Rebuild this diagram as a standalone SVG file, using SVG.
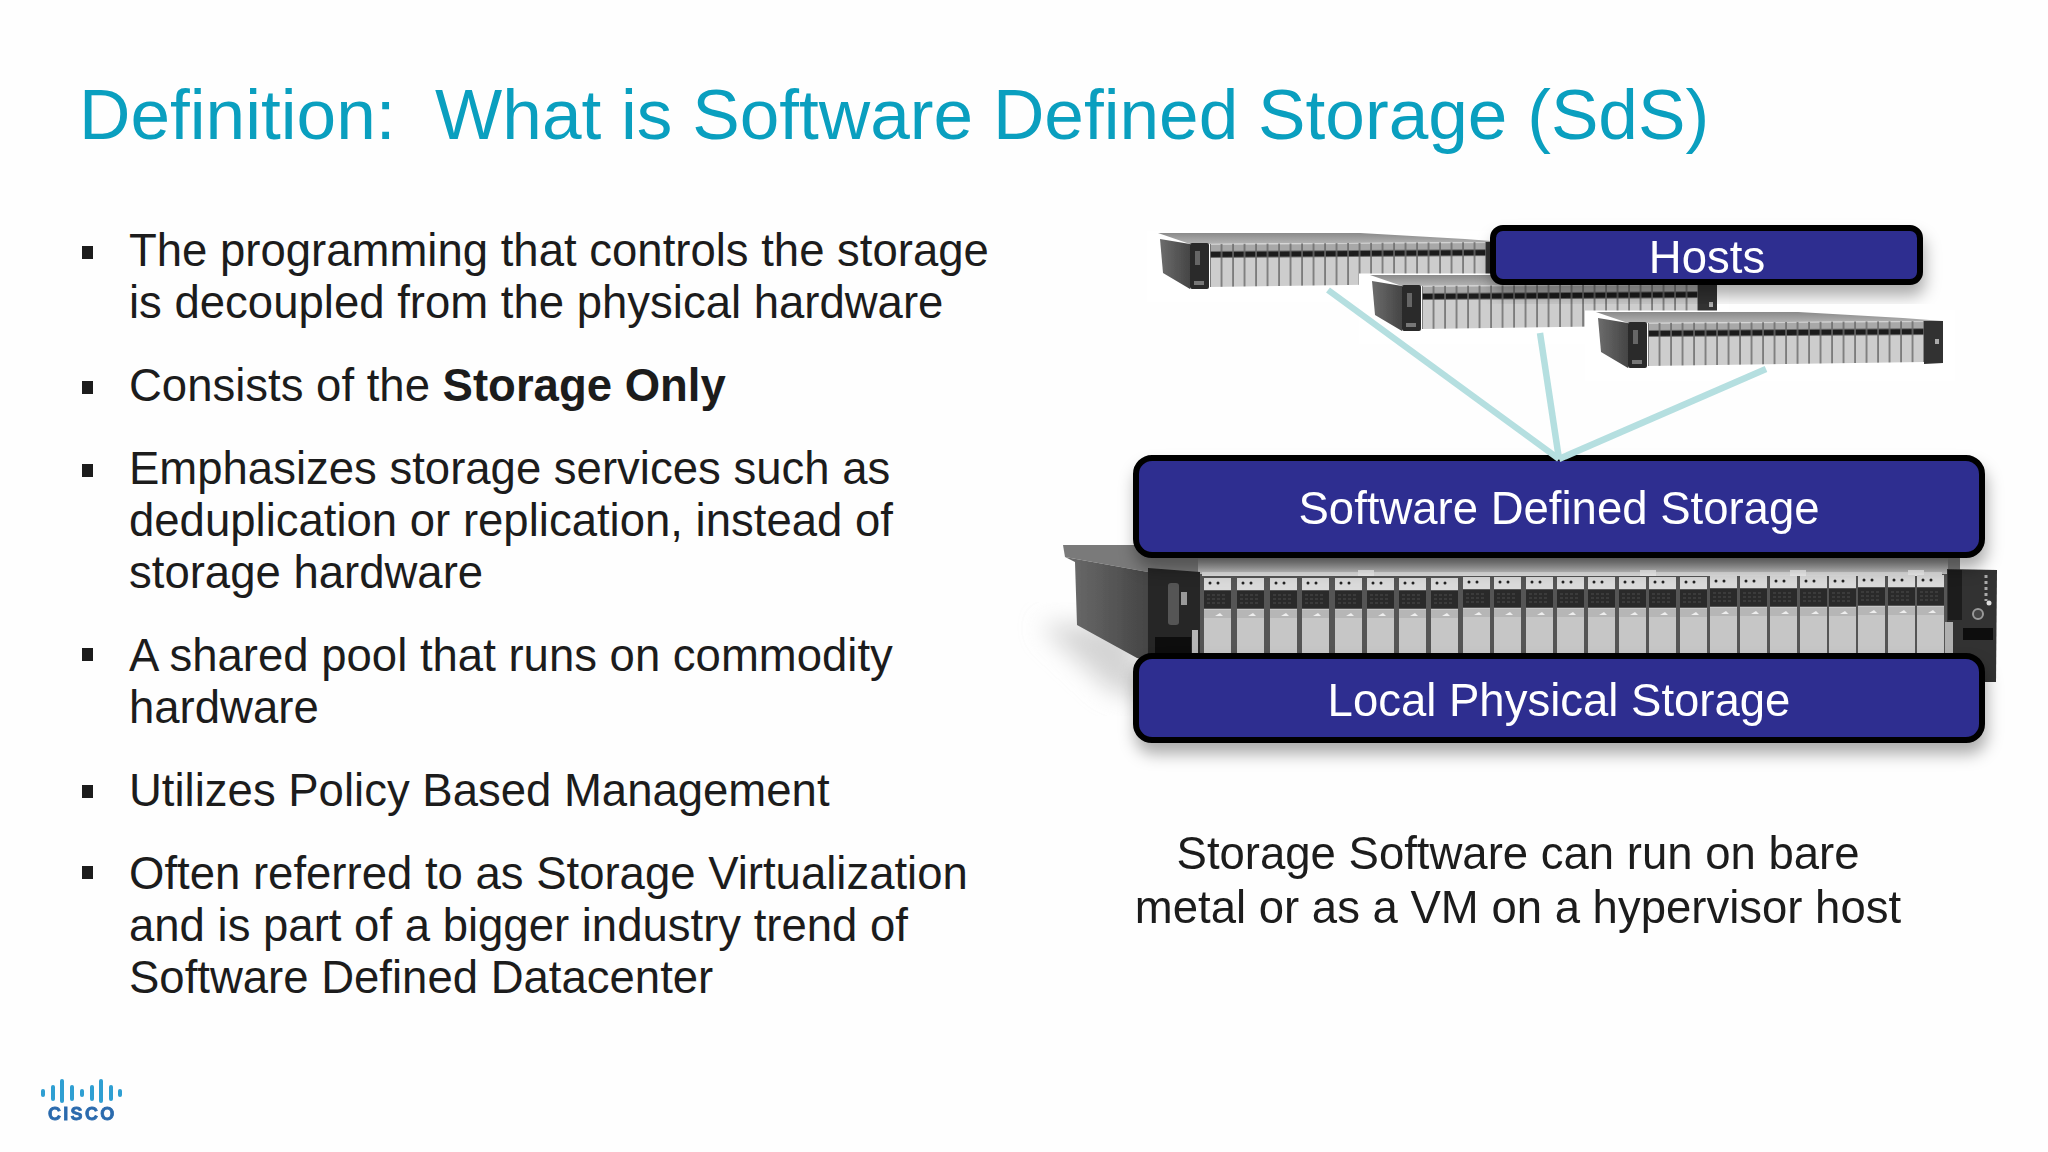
<svg xmlns="http://www.w3.org/2000/svg" xmlns:xlink="http://www.w3.org/1999/xlink" width="2048" height="1152" viewBox="0 0 2048 1152">
<style>
text{font-family:"Liberation Sans",Arial,sans-serif}
.title{font-size:71.2px;fill:#0a9fbf}
.body{font-size:45.5px;fill:#1c1c1c}
.side{font-size:45.5px;fill:#1c1c1c;text-anchor:middle}
.label{font-size:45.5px;fill:#fff;text-anchor:middle}
.box{fill:#2e2e90;stroke:#000;stroke-width:6;filter:url(#shadow)}
.link{stroke:#b5dfe0;stroke-width:6.500;fill:none}
.bullet{fill:#1c1c1c}
.bar{stroke-linecap:round;stroke-width:4;stroke:#2f9fd2}
</style>
<defs>
<filter id="shadow" x="-10%" y="-30%" width="120%" height="170%"><feDropShadow dx="2" dy="11" stdDeviation="8" flood-color="#000" flood-opacity=".32"/></filter>
<filter id="soft"><feGaussianBlur stdDeviation=".6"/></filter>
<filter id="ground" x="-30%" y="-30%" width="160%" height="160%"><feGaussianBlur stdDeviation="12"/></filter>
<linearGradient id="topG" x1="0" y1="0" x2="0" y2="1"><stop offset="0" stop-color="#8a8a8a"/><stop offset="1" stop-color="#b4b4b4"/></linearGradient>
<linearGradient id="sideG" x1="0" y1="0" x2="1" y2="0"><stop offset="0" stop-color="#6c6c6c"/><stop offset="1" stop-color="#454545"/></linearGradient>
<linearGradient id="bandG" x1="0" y1="0" x2="0" y2="1"><stop offset="0" stop-color="#7d7d7d"/><stop offset="1" stop-color="#d2d2d2"/></linearGradient>
<pattern id="smallBays" width="11.5" height="46" patternUnits="userSpaceOnUse" patternTransform="translate(20,2) skewY(-.4)">
<rect width="11.5" height="46" fill="#6a6a6a"/>
<rect x=".8" y="0" width="10" height="6" fill="#a8a8a8"/>
<rect x=".8" y="7" width="10" height="5" fill="#1f1f1f"/>
<rect x=".8" y="13" width="10" height="33" fill="#cdcdcd"/>
</pattern>
<g id="smallServer">
<rect x="-43" y="-11.500" width="370" height="70" fill="#fff"/>
<polygon points="-32,-10 170,-10 275,-4 315,-1 0,1" fill="url(#topG)"/>
<polygon points="-30,-4 0,1 0,46 -27,30" fill="url(#sideG)"/>
<polygon points="20,1 296,-1 296,40 20,44" fill="url(#smallBays)"/>
<rect x="0" y="0" width="19" height="46" rx="2" fill="#2b2b2b"/>
<polygon points="296,-1 315,-1 315,41 296,42" fill="#333"/>
<rect x="5" y="8" width="5" height="14" fill="#666"/>
<rect x="4" y="38" width="10" height="4" fill="#777"/>
<rect x="307" y="17" width="4" height="5" fill="#aaa"/>
</g>
<g id="bay">
<rect x="0" y="0" width="27" height="12" fill="#dadada"/>
<circle cx="6" cy="5" r="1.5" fill="#222"/><circle cx="14" cy="5" r="1.5" fill="#222"/>
<rect x="0" y="13" width="27" height="17" fill="#2a2a2a"/>
<path d="M3 17h20M3 21h20M3 25h20" stroke="#4a4a4a" stroke-width="1.2" stroke-dasharray="3 2"/>
<rect x="0" y="31" width="27" height="50" fill="#c6c6c6"/>
<rect x="0" y="32" width="27" height="8" fill="#b6b6b6"/>
<polygon points="11,38 16,35 19,38" fill="#eee"/>
</g>
</defs>
<rect width="2048" height="1152" fill="#fefefe"/>

<g id="title"><text class="title" x="79" y="139" xml:space="preserve">Definition:  What is Software Defined Storage (SdS)</text></g>

<g id="bullets">
<rect class="bullet" x="82" y="246" width="11" height="13"/>
<rect class="bullet" x="82" y="381" width="11" height="13"/>
<rect class="bullet" x="82" y="464" width="11" height="13"/>
<rect class="bullet" x="82" y="648" width="11" height="13"/>
<rect class="bullet" x="82" y="785" width="11" height="13"/>
<rect class="bullet" x="82" y="866" width="11" height="13"/>
<text class="body" x="129" y="266">The programming that controls the storage</text>
<text class="body" x="129" y="318">is decoupled from the physical hardware</text>
<text class="body" x="129" y="401">Consists of the <tspan font-weight="700">Storage Only</tspan></text>
<text class="body" x="129" y="484">Emphasizes storage services such as</text>
<text class="body" x="129" y="536">deduplication or replication, instead of</text>
<text class="body" x="129" y="588">storage hardware</text>
<text class="body" x="129" y="671">A shared pool that runs on commodity</text>
<text class="body" x="129" y="723">hardware</text>
<text class="body" x="129" y="806">Utilizes Policy Based Management</text>
<text class="body" x="129" y="889">Often referred to as Storage Virtualization</text>
<text class="body" x="129" y="941">and is part of a bigger industry trend of</text>
<text class="body" x="129" y="993">Software Defined Datacenter</text>
</g>

<g id="host-servers" filter="url(#soft)">
<use xlink:href="#smallServer" href="#smallServer" x="1190" y="243"/>
<use xlink:href="#smallServer" href="#smallServer" x="1402" y="285"/>
<use xlink:href="#smallServer" href="#smallServer" x="1628" y="322"/>
</g>

<g id="storage-server" filter="url(#soft)">
<polygon points="1040,625 1130,625 1150,700 1110,690" fill="#d4d4d4" filter="url(#ground)"/>
<polygon points="1063,545 1960,545 1960,580 1148,572 1065,557" fill="#7a7a7a"/>
<polygon points="1065,557 1148,572 1148,660 1137,658 1077,625 1075,562" fill="url(#sideG)"/>
<rect x="1198" y="558" width="750" height="18" fill="url(#bandG)"/>
<rect x="1198" y="574" width="750" height="84" fill="#555"/>
<rect x="1202" y="572" width="740" height="4" fill="#dedede"/>
<rect x="1358" y="570" width="16" height="6" fill="#eee"/>
<rect x="1640" y="570" width="16" height="6" fill="#eee"/>
<rect x="1790" y="570" width="16" height="6" fill="#eee"/>
<rect x="1908" y="570" width="16" height="6" fill="#eee"/>
<polygon points="1148,568 1200,572 1200,660 1148,660" fill="#262626"/>
<rect x="1168" y="583" width="11" height="42" rx="3" fill="#555"/>
<rect x="1181" y="592" width="6" height="13" fill="#999"/>
<rect x="1155" y="637" width="36" height="20" fill="#0d0d0d"/>
<rect x="1192" y="630" width="6" height="26" fill="#b5b5b5"/>
<use xlink:href="#bay" href="#bay" x="1204" y="578"/>
<use xlink:href="#bay" href="#bay" x="1237" y="578"/>
<use xlink:href="#bay" href="#bay" x="1270" y="578"/>
<use xlink:href="#bay" href="#bay" x="1302" y="578"/>
<use xlink:href="#bay" href="#bay" x="1335" y="578"/>
<use xlink:href="#bay" href="#bay" x="1367" y="578"/>
<use xlink:href="#bay" href="#bay" x="1399" y="578"/>
<use xlink:href="#bay" href="#bay" x="1431" y="578"/>
<use xlink:href="#bay" href="#bay" x="1463" y="577"/>
<use xlink:href="#bay" href="#bay" x="1494" y="577"/>
<use xlink:href="#bay" href="#bay" x="1526" y="577"/>
<use xlink:href="#bay" href="#bay" x="1557" y="577"/>
<use xlink:href="#bay" href="#bay" x="1588" y="577"/>
<use xlink:href="#bay" href="#bay" x="1619" y="577"/>
<use xlink:href="#bay" href="#bay" x="1649" y="577"/>
<use xlink:href="#bay" href="#bay" x="1680" y="577"/>
<use xlink:href="#bay" href="#bay" x="1710" y="576"/>
<use xlink:href="#bay" href="#bay" x="1740" y="576"/>
<use xlink:href="#bay" href="#bay" x="1770" y="576"/>
<use xlink:href="#bay" href="#bay" x="1800" y="576"/>
<use xlink:href="#bay" href="#bay" x="1829" y="576"/>
<use xlink:href="#bay" href="#bay" x="1858" y="575"/>
<use xlink:href="#bay" href="#bay" x="1888" y="575"/>
<use xlink:href="#bay" href="#bay" x="1917" y="575"/>
<polygon points="1947,569 1997,570 1996,682 1947,682" fill="#303030"/>
<rect x="1945" y="622" width="8" height="34" fill="#b0b0b0"/>
<rect x="1948" y="570" width="14" height="50" fill="#1a1a1a"/>
<path d="M1986 575v26" stroke="#aaa" stroke-width="3" stroke-dasharray="3 3"/>
<circle cx="1989" cy="603" r="2.500" fill="#ddd"/>
<circle cx="1978" cy="614" r="5" fill="#444" stroke="#999" stroke-width="2"/>
<rect x="1963" y="628" width="30" height="12" fill="#0e0e0e"/>
</g>

<g id="node-hosts">
<rect class="box" x="1493" y="228" width="427" height="54" rx="10"/>
<text class="label" x="1707" y="273">Hosts</text>
</g>
<g id="node-sds">
<rect class="box" x="1136" y="458" width="846" height="97" rx="16"/>
<text class="label" x="1559" y="524">Software Defined Storage</text>
</g>
<g id="node-lps">
<rect class="box" x="1136" y="656" width="846" height="84" rx="16"/>
<text class="label" x="1559" y="716">Local Physical Storage</text>
</g>

<g id="connectors">
<line class="link" x1="1328" y1="290" x2="1559" y2="459"/>
<line class="link" x1="1540" y1="333" x2="1559" y2="459"/>
<line class="link" x1="1766" y1="369" x2="1559" y2="459"/>
</g>

<g id="caption">
<text class="side" x="1518" y="869">Storage Software can run on bare</text>
<text class="side" x="1518" y="923">metal or as a VM on a hypervisor host</text>
</g>

<g id="logo">
<line class="bar" x1="43" y1="1091" x2="43" y2="1095"/>
<line class="bar" x1="53" y1="1087" x2="53" y2="1099"/>
<line class="bar" x1="62" y1="1081" x2="62" y2="1101"/>
<line class="bar" x1="72" y1="1087" x2="72" y2="1099"/>
<line class="bar" x1="82" y1="1091" x2="82" y2="1095"/>
<line class="bar" x1="92" y1="1087" x2="92" y2="1099"/>
<line class="bar" x1="101" y1="1081" x2="101" y2="1101"/>
<line class="bar" x1="111" y1="1087" x2="111" y2="1099"/>
<line class="bar" x1="120" y1="1091" x2="120" y2="1095"/>
<text x="48" y="1120" font-size="18" font-weight="700" fill="#2a6aad" stroke="#2a6aad" stroke-width=".8" letter-spacing="2.3">CISCO</text>
</g>
</svg>
